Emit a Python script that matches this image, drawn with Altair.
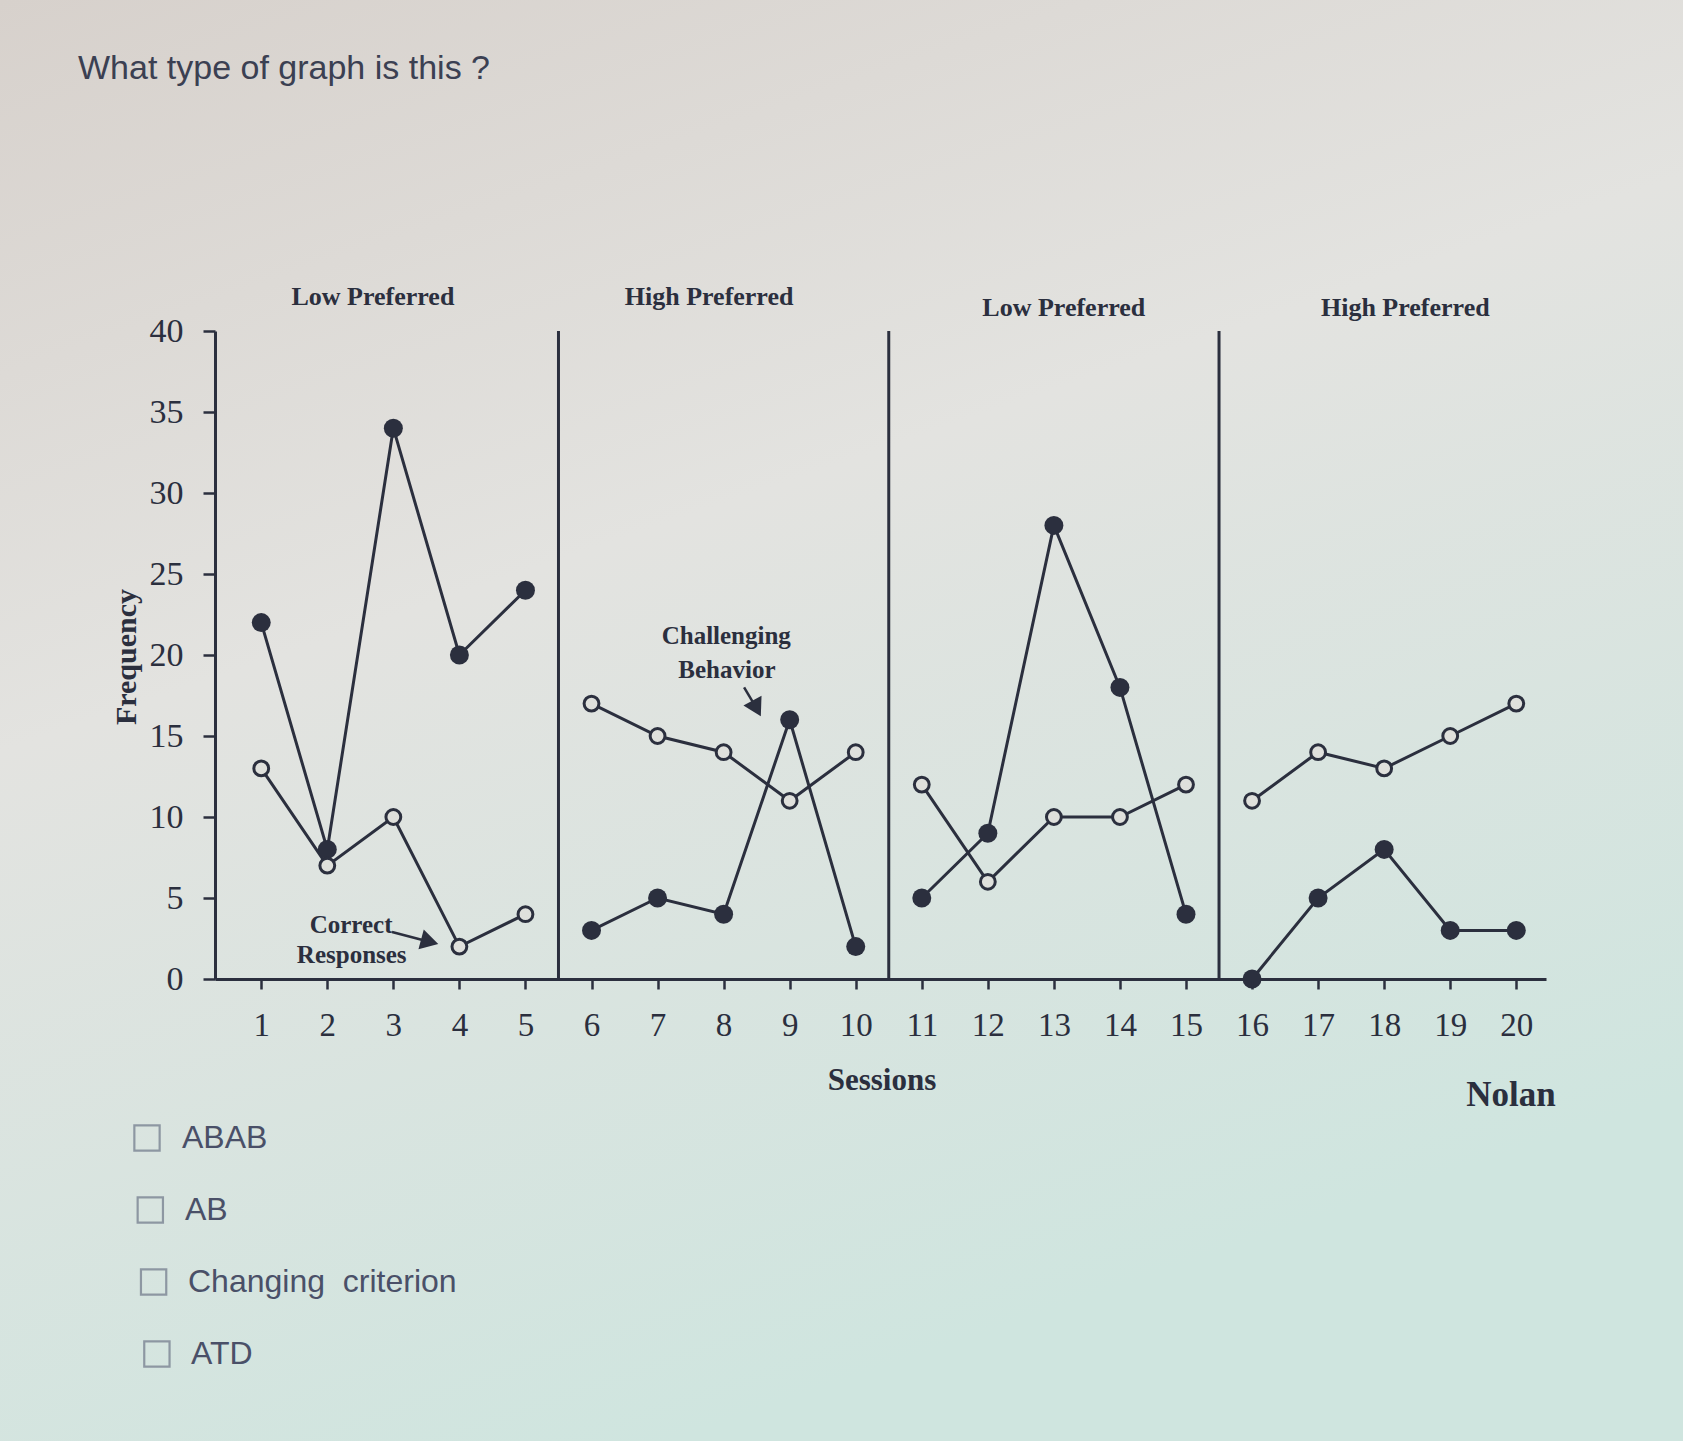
import altair as alt
import pandas as pd

# ---------------- data ----------------
sessions = list(range(1, 21))
challenging = [22, 8, 34, 20, 24, 3, 5, 4, 16, 2, 5, 9, 28, 18, 4, 0, 5, 8, 3, 3]
correct = [13, 7, 10, 2, 4, 17, 15, 14, 11, 14, 12, 6, 10, 10, 12, 11, 14, 13, 15, 17]
phase_index = [1] * 5 + [2] * 5 + [3] * 5 + [4] * 5
phase_names = ["Low Preferred", "High Preferred", "Low Preferred", "High Preferred"]
y_ticks = [0, 5, 10, 15, 20, 25, 30, 35, 40]
question = "What type of graph is this ?"
options = ["ABAB", "AB", "Changing\u00a0 criterion", "ATD"]

# ---------------- styling ----------------
INK = "#2b2f3e"
BG = "#dfe0dc"
SERIF = "Liberation Serif"
SANS = "Liberation Sans"
W, H = 1331, 648

df = pd.DataFrame({
    "Session": sessions * 2,
    "Frequency": challenging + correct,
    "Series": ["Challenging Behavior"] * 20 + ["Correct Responses"] * 20,
    "Phase": phase_index * 2,
})
df["grp"] = df["Series"] + "-" + df["Phase"].astype(str)

xscale = alt.Scale(domain=[0.3, 20.45], nice=False, zero=False)
yscale = alt.Scale(domain=[0, 40], nice=False)
xaxis = alt.Axis(values=sessions, title=None, grid=False, labelPadding=20,
                 tickSize=10, labelFontSize=33, zindex=2)
yaxis = alt.Axis(values=y_ticks, title=None, grid=False, labelPadding=20,
                 tickSize=12, labelFontSize=34, zindex=2)

Xa = lambda f: alt.X(f, scale=xscale, axis=xaxis)
Ya = lambda f: alt.Y(f, scale=yscale, axis=yaxis)

base = alt.Chart(df)

bg = alt.Chart(pd.DataFrame({"a": [0]})).mark_rect(
    color=alt.LinearGradient(
        gradient="linear",
        stops=[alt.GradientStop(color="#d7d1cc", offset=0),
               alt.GradientStop(color="#e3e3e0", offset=0.45),
               alt.GradientStop(color="#cfe5df", offset=1)],
        x1=0, y1=0, x2=0.4, y2=1)
).encode(x=alt.value(-215), x2=alt.value(1468), y=alt.value(-331), y2=alt.value(1110))

lines = base.mark_line(color=INK, strokeWidth=3).encode(
    x=Xa("Session:Q"), y=Ya("Frequency:Q"), detail="grp:N")

filled = base.transform_filter(alt.datum.Series == "Challenging Behavior").mark_circle(
    size=360, color=INK, opacity=1).encode(x=Xa("Session:Q"), y=Ya("Frequency:Q"))

opened = base.transform_filter(alt.datum.Series == "Correct Responses").mark_point(
    shape="circle", size=220, fill=BG, fillOpacity=1, stroke=INK, strokeWidth=3,
    opacity=1).encode(x=Xa("Session:Q"), y=Ya("Frequency:Q"))

bounds = [max(s for s, p in zip(sessions, phase_index) if p == k) + 0.5 for k in (1, 2, 3)]
phase_rules = alt.Chart(pd.DataFrame({"b": bounds})).mark_rule(
    color=INK, strokeWidth=3).encode(x=Xa("b:Q"), y=alt.datum(40), y2=alt.datum(0))

phase_lab = alt.Chart(pd.DataFrame({
    "t": phase_names, "x": [2.69, 7.78, 13.15, 18.32], "yy": [-34, -34, -23, -23]
})).mark_text(font=SERIF, fontSize=26, fontWeight="bold", color=INK, baseline="middle").encode(
    x=Xa("x:Q"), y=alt.Y("yy:Q", scale=None), text="t:N")

ann = alt.Chart(pd.DataFrame({
    "t": ["Correct", "Responses", "Challenging", "Behavior"],
    "x": [2.36, 2.37, 8.04, 8.05],
    "v": [3.33, 1.48, 21.2, 19.1],
})).mark_text(font=SERIF, fontSize=25, fontWeight="bold", color=INK, baseline="middle").encode(
    x=Xa("x:Q"), y=Ya("v:Q"), text="t:N")

arrow_df = pd.DataFrame({"x": [2.98, 8.31], "v": [2.9, 18.0], "x2": [3.5, 8.47], "v2": [2.35, 16.9],
                         "hx": [3.55, 8.5], "hv": [2.3, 16.7], "ang": [15, 62]})
arrow_lines = alt.Chart(arrow_df).mark_rule(color=INK, strokeWidth=2.5).encode(
    x=Xa("x:Q"), y=Ya("v:Q"), x2="x2:Q", y2="v2:Q")
arrow_heads = alt.Chart(arrow_df).mark_point(shape="triangle-right", filled=True, size=420,
                                             color=INK, opacity=1).encode(
    x=Xa("hx:Q"), y=Ya("hv:Q"), angle=alt.Angle("ang:Q", scale=None))

layers = [bg, lines, phase_rules, filled, opened, phase_lab, ann, arrow_lines, arrow_heads]

# free text: question, axis titles, author
layers.append(alt.Chart(pd.DataFrame({"t": [question]})).mark_text(
    font=SANS, fontSize=34, color="#3b4052", align="left", baseline="middle").encode(
    x=alt.value(-137), y=alt.value(-262), text="t:N"))
layers.append(alt.Chart(pd.DataFrame({"t": ["Frequency"]})).mark_text(
    font=SERIF, fontSize=30, fontWeight="bold", color=INK, angle=270, baseline="middle").encode(
    x=alt.value(-88), y=alt.value(326), text="t:N"))
layers.append(alt.Chart(pd.DataFrame({"t": ["Sessions"]})).mark_text(
    font=SERIF, fontSize=31, fontWeight="bold", color=INK, baseline="middle").encode(
    x=alt.value(667), y=alt.value(750), text="t:N"))
layers.append(alt.Chart(pd.DataFrame({"t": ["Nolan"]})).mark_text(
    font=SERIF, fontSize=35, fontWeight="bold", color=INK, baseline="middle").encode(
    x=alt.value(1296), y=alt.value(764), text="t:N"))

for i, opt in enumerate(options):
    yy = 807 + i * 72
    layers.append(alt.Chart(pd.DataFrame({"t": [opt]})).mark_point(
        shape="square", size=640, filled=False, stroke="#8d97a2", strokeWidth=2.2, opacity=1).encode(
        x=alt.value(-68 + i * 3.3), y=alt.value(yy)))
    layers.append(alt.Chart(pd.DataFrame({"t": [opt]})).mark_text(
        font=SANS, fontSize=32, color="#4a5068", align="left", baseline="middle").encode(
        x=alt.value(-33 + i * 3), y=alt.value(yy), text="t:N"))

chart = alt.layer(*layers).properties(
    width=W, height=H,
    autosize=alt.AutoSizeParams(type="none"),
    padding={"left": 215, "top": 331, "right": 137, "bottom": 462},
).configure(background=BG).configure_view(stroke=None).configure_axis(
    domainColor=INK, domainWidth=3, tickColor=INK, tickWidth=2.5,
    labelFont=SERIF, labelColor=INK,
)

chart.save("out.html", embed_options={"renderer": "svg", "actions": False})
